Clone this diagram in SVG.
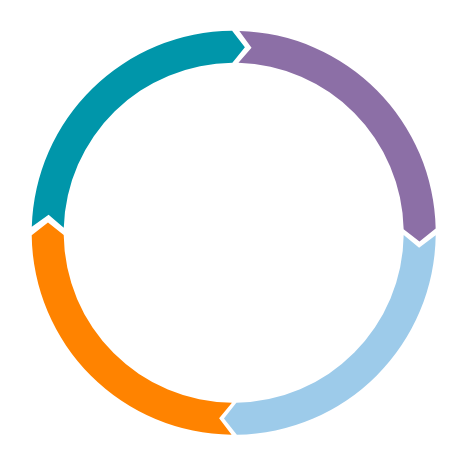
<svg xmlns="http://www.w3.org/2000/svg" width="466" height="464" viewBox="0 0 466 464">
<style>
.teal{fill:#0096AA}
.purple{fill:#8C6FA6}
.lblue{fill:#9DCBEA}
.orange{fill:#FF8300}
</style>
<rect width="466" height="464" fill="#FFFFFF"/>
<g id="seg-teal">
<path class="teal" d="M31.79,226.81 A202,202 0 0 1 232.11,30.81 L244.89,47.14 L232.37,62.81 A170,170 0 0 0 63.77,227.76 L48.59,214.65 Z"/>
</g>
<g id="seg-purple">
<path class="purple" d="M239.34,30.88 A202,202 0 0 1 435.66,228.57 L419.49,241.56 L403.66,229.24 A170,170 0 0 0 238.45,62.87 L251.53,47.66 Z"/>
</g>
<g id="seg-lightblue">
<path class="lblue" d="M435.69,235.27 A202,202 0 0 1 236.87,434.78 L223.97,418.55 L236.37,402.78 A170,170 0 0 0 403.69,234.88 L419.10,247.72 Z"/>
</g>
<g id="seg-orange">
<path class="orange" d="M231.58,434.79 A202,202 0 0 1 31.71,235.27 L47.99,222.42 L63.71,234.88 A170,170 0 0 0 231.92,402.79 L219.11,418.23 Z"/>
</g>
</svg>
